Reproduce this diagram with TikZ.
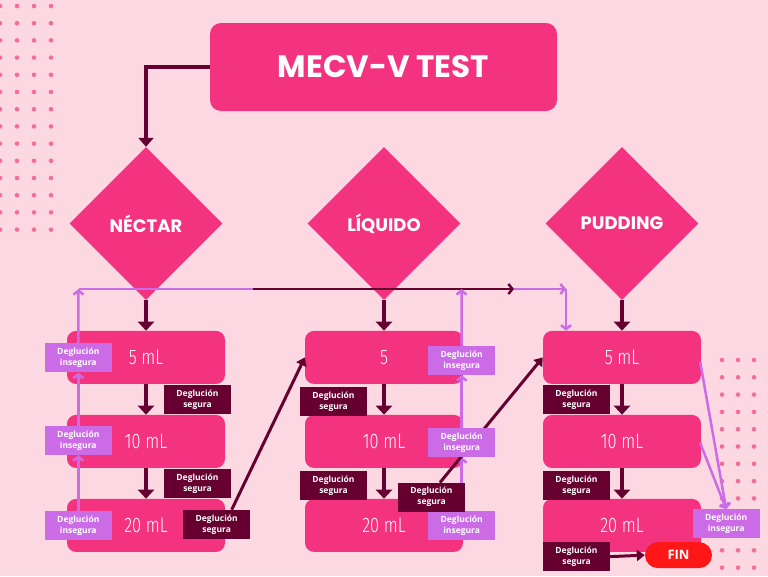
\documentclass[tikz,border=0pt]{standalone}
\usepackage{fontspec}
\setmainfont{Open Sans}
\newfontfamily\headfont{Poppins}
\newfontfamily\dosefont[FakeStretch=0.78]{Fira Sans Light}
\usetikzlibrary{shapes.geometric,arrows.meta,calc}

\definecolor{bgpink}{HTML}{FCD8E3}
\definecolor{hotpink}{HTML}{F43380}
\definecolor{wine}{HTML}{660030}
\definecolor{lilac}{HTML}{CB6CE6}
\definecolor{finred}{HTML}{FF1616}
\definecolor{dotpink}{HTML}{F86B9D}

\pgfdeclarelayer{back}
\pgfdeclarelayer{wires}
\pgfsetlayers{back,wires,main}

\tikzset{
  headline/.style={rectangle, rounded corners=11pt, fill=hotpink, text=white,
    minimum width=347pt, minimum height=88pt, font=\headfont\bfseries\fontsize{31}{31}\selectfont},
  flavour/.style={diamond, fill=hotpink, text=white, minimum size=153pt, inner sep=0pt,
    font=\headfont\bfseries\fontsize{18}{18}\selectfont},
  dose/.style={rectangle, rounded corners=9pt, fill=hotpink, text=white,
    minimum width=158pt, minimum height=53pt, font=\dosefont\fontsize{21}{21}\selectfont},
  tag/.style={rectangle, minimum width=67pt, minimum height=29pt, inner sep=0pt, align=center,
    text=white, font=\bfseries\fontsize{8.5}{11}\selectfont},
  unsafe/.style={tag, fill=lilac},
  safe/.style={tag, fill=wine},
  finbox/.style={rectangle, rounded corners=13pt, fill=finred, text=white, minimum width=67pt,
    minimum height=26pt, inner sep=0pt, font=\bfseries\fontsize{13}{13}\selectfont},
  stepline/.style={wine, line width=4.5pt, -{Triangle[length=9pt,width=16pt]}},
  jumpline/.style={wine, line width=3pt, -{Triangle[length=8pt,width=11pt]}},
  backline/.style={lilac, line width=2.5pt},
  backarrow/.style={backline, -{Straight Barb[length=4pt,width=10pt]}},
}

\begin{document}
\begin{tikzpicture}[x=1pt,y=-1pt]
  \useasboundingbox (0,0) rectangle (768,576);
  \begin{pgfonlayer}{back}
    \fill[bgpink] (0,0) rectangle (768,576);
    % dotted corners
    \foreach \c in {0,...,3}
      \foreach \r in {0,...,13}
        \fill[dotpink] (\c*17, 6+\r*17.2) circle (2.3pt);
    \foreach \c in {0,...,3}
      \foreach \r in {0,...,12}
        \fill[dotpink] (722+\c*16, 360+\r*17.3) circle (2.3pt);
    \node[headline] (title) at (383.5,67) {MECV-V TEST};
    \matrix[row sep=31pt, column sep=80pt] at (384,349.5) {
      % consistencies
      \node[flavour] (nectar) {NÉCTAR}; & \node[flavour] (liquido) {LÍQUIDO}; & \node[flavour] (pudding) {PUDDING}; \\
      % volumes
      \node[dose] (b11) {5 mL}; & \node[dose] (b21) {5}; & \node[dose] (b31) {5 mL}; \\
      \node[dose] (b12) {10 mL}; & \node[dose] (b22) {10 mL}; & \node[dose] (b32) {10 mL}; \\
      \node[dose] (b13) {20 mL}; & \node[dose] (b23) {20 mL}; & \node[dose] (b33) {20 mL}; \\
    };
  \end{pgfonlayer}

  % result tags
  \node[unsafe] (ins11) at ($(b11.west)+(11.5,0.5)$) {Deglución\\insegura};
  \node[unsafe] (ins12) at ($(b12.west)+(11.5,-1)$) {Deglución\\insegura};
  \node[unsafe] (ins13) at ($(b13.west)+(11.5,0.5)$) {Deglución\\insegura};
  \node[safe] (seg11) at ($(b11.south)+(51.5,15.5)$) {Deglución\\segura};
  \node[safe] (seg12) at ($(b12.south)+(51.5,15.5)$) {Deglución\\segura};
  \node[safe] (seg13) at ($(b13.east)+(-8.5,-1)$) {Deglución\\segura};

  \node[unsafe] (ins21) at ($(b21.east)+(-1.5,3)$) {Deglución\\insegura};
  \node[unsafe] (ins22) at ($(b22.east)+(-1.5,1)$) {Deglución\\insegura};
  \node[unsafe] (ins23) at ($(b23.east)+(-1.5,0.5)$) {Deglución\\insegura};
  \node[safe] (seg21) at ($(b21.south)+(-50.5,17.5)$) {Deglución\\segura};
  \node[safe] (seg22) at ($(b22.south)+(-50.5,17.5)$) {Deglución\\segura};
  \node[safe] (seg23) at ($(b23.north)+(47.5,-1.5)$) {Deglución\\segura};

  \node[safe] (seg31) at ($(b31.south)+(-45.5,15.5)$) {Deglución\\segura};
  \node[safe] (seg32) at ($(b32.south)+(-45.5,17.5)$) {Deglución\\segura};
  \node[safe] (seg33) at ($(b33.south)+(-45.5,4.5)$) {Deglución\\segura};
  \node[unsafe] (ins33) at ($(b33.east)+(25,-1.5)$) {Deglución\\insegura};
  \node[finbox] (fin) at ($(b33.south)+(56.5,3)$) {FIN};

  \coordinate (railA) at (78.5,289);
  \coordinate (railB) at (253,289);
  \coordinate (railC) at (514,289);
  \coordinate (railD) at (566,289);
  \coordinate (railE) at (461.5,289);

  \begin{pgfonlayer}{wires}
    \draw[wine, line width=3.5pt, -{Triangle[length=9pt,width=15pt]}] (title.west) -| (nectar.north);
    \draw[stepline] (nectar.south) -- (b11.north);
    \draw[stepline] (liquido.south) -- (b21.north);
    \draw[stepline] (pudding.south) -- (b31.north);
    \foreach \c in {1,2,3} {
      \draw[stepline] (b\c1.south) -- (b\c2.north);
      \draw[stepline] (b\c2.south) -- (b\c3.north);
    }
    % failed swallow goes back up
    \draw[backarrow] (ins13.north) -- (ins12.south);
    \draw[backarrow] (ins12.north) -- (ins11.south);
    \draw[backarrow] (ins11.north) -- (railA);
    \draw[backline] (railA) -- (railB);
    \draw[wine, line width=2.5pt, -{Straight Barb[length=4pt,width=10pt]}] (railB) -- (railC);
    \draw[backarrow] (railC) -- (railD);
    \draw[backarrow] (railD) -- (railD |- b31.north);
    \draw[backarrow] (ins23.north) -- (ins22.south);
    \draw[backarrow] (ins22.north) -- (ins21.south);
    \draw[backarrow] (ins21.north) -- (railE);
    \draw[backarrow] ($(b31.east)+(-1,4.5)$) -- (ins33.north);
    \draw[backarrow] ($(b32.east)+(-1,1.5)$) -- (ins33.north);
    % safe swallow jumps on
    \draw[jumpline] ([xshift=15pt]seg13.north) -- (b21.west);
    \draw[jumpline] ([xshift=8.5pt]seg23.north) -- (b31.west);
    \draw[jumpline] (seg33.east) -- (fin.west);
  \end{pgfonlayer}
\end{tikzpicture}
\end{document}
